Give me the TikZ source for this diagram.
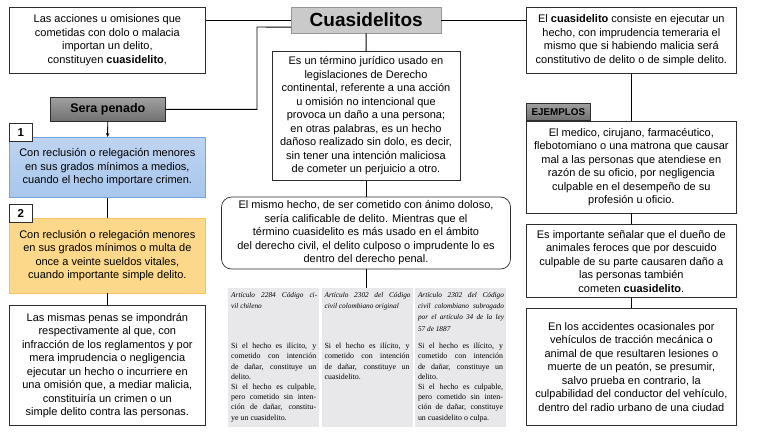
\documentclass[tikz,border=0pt]{standalone}
\usepackage{fontspec}
\setmainfont{Liberation Sans}
\newfontfamily\tablefont{Liberation Serif}
\usetikzlibrary{positioning,arrows.meta}
\definecolor{boxline}{RGB}{45,45,45}
\definecolor{titlegray}{RGB}{202,202,202}
\definecolor{titleline}{RGB}{150,150,150}
\definecolor{tagtop}{RGB}{160,160,160}
\definecolor{tagbottom}{RGB}{112,112,112}
\definecolor{penblue}{RGB}{168,198,236}
\definecolor{penblueline}{RGB}{118,164,221}
\definecolor{penyellow}{RGB}{252,216,138}
\definecolor{penyellowline}{RGB}{244,194,98}
\definecolor{tablegray}{RGB}{232,232,234}

\begin{document}
\begin{tikzpicture}[x=1pt, y=-1pt, node distance=10pt,
  every node/.style={font=\fontsize{11}{13.5}\selectfont},
  box/.style={draw=boxline, fill=white, line width=0.7pt, inner sep=3pt, align=center},
  tag/.style={draw=boxline, line width=0.7pt, top color=tagtop, bottom color=tagbottom, inner sep=2pt},
  numtag/.style={draw=boxline, fill=white, line width=0.7pt, inner sep=0pt, minimum width=23pt, minimum height=18pt, font=\bfseries\fontsize{11.5}{13}\selectfont},
  tabcol/.style={fill=tablegray, inner sep=0pt, minimum width=91pt, minimum height=139pt},
  tabhead/.style={inner sep=0pt, text width=86pt, align=justify, font=\tablefont\itshape\fontsize{7.3}{11.3}\selectfont},
  tabbody/.style={inner sep=0pt, text width=85pt, align=justify, font=\tablefont\fontsize{7.9}{10.2}\selectfont},
  link/.style={line width=0.9pt, black}]
  \fill[white] (0,0) rectangle (768,433);
  \useasboundingbox (0,0) rectangle (768,433);

  % centre column
  \node[draw=titleline, fill=titlegray, minimum width=150pt, minimum height=26pt, inner sep=0pt,
    font=\bfseries\fontsize{19}{21}\selectfont, anchor=north west] (title) at (291,7) {Cuasidelitos};
  \node[box, minimum width=188pt, minimum height=129pt, anchor=north] (termino) at (366,51)
    {Es un término jurídico usado en\\legislaciones de Derecho\\continental, referente a una acción\\u omisión no intencional que\\provoca un daño a una persona;\\en otras palabras, es un hecho\\dañoso realizado sin dolo, es decir,\\sin tener una intención maliciosa\\de cometer un perjuicio a otro.};
  \node[box, rounded corners=10pt, minimum width=289pt, minimum height=72pt, below=16pt of termino] (doloso)
    {El mismo hecho, de ser cometido con ánimo doloso,\\sería calificable de delito. Mientras que el\\término cuasidelito es más usado en el ámbito\\del derecho civil, el delito culposo o imprudente lo es\\dentro del derecho penal.};

  % table of articles
  \node[tabcol, anchor=north west] (colA) at (228,288) {};
  \node[tabcol, right=2pt of colA] (colB) {};
  \node[tabcol, right=2pt of colB] (colC) {};
  \node[tabhead, anchor=north west] (headA) at ([xshift=3pt,yshift=-4pt]colA.north west)
    {Artículo 2284 Código ci-\linebreak vil chileno};
  \node[tabhead, anchor=north west] (headB) at ([xshift=3pt,yshift=-4pt]colB.north west)
    {Artículo 2302 del Código\linebreak civil colombiano original};
  \node[tabhead, anchor=north west] (headC) at ([xshift=3pt,yshift=-4pt]colC.north west)
    {Artículo 2302 del Código\linebreak civil colombiano subrogado\linebreak por el artículo 34 de la ley\linebreak 57 de 1887};
  \node[tabbody, anchor=north west] (bodyA) at ([xshift=3pt,yshift=-55pt]colA.north west)
    {Si el hecho es ilícito, y\linebreak cometido con intención\linebreak de dañar, constituye un\linebreak delito.\\Si el hecho es culpable,\linebreak pero cometido sin inten-\linebreak ción de dañar, constitu-\linebreak ye un cuasidelito.};
  \node[tabbody, anchor=north west] (bodyB) at ([xshift=3pt,yshift=-55pt]colB.north west)
    {Si el hecho es ilícito, y\linebreak cometido con intención\linebreak de dañar, constituye un\linebreak cuasidelito.};
  \node[tabbody, anchor=north west] (bodyC) at ([xshift=3pt,yshift=-55pt]colC.north west)
    {Si el hecho es ilícito, y\linebreak cometido con intención\linebreak de dañar, constituye un\linebreak delito.\\Si el hecho es culpable,\linebreak pero cometido sin inten-\linebreak ción de dañar, constituye\linebreak un cuasidelito o culpa.};

  % left column
  \node[box, minimum width=196pt, minimum height=66pt, anchor=north west] (acciones) at (9,7)
    {Las acciones u omisiones que\\cometidas con dolo o malacia\\importan un delito,\\constituyen \textbf{cuasidelito},};
  \node[tag, minimum width=115pt, minimum height=24pt, font=\bfseries\fontsize{12.5}{14}\selectfont,
    anchor=north west] (penado) at (50,97) {Sera penado};
  \node[box, draw=penblueline, top color=penblue!75!white, bottom color=penblue, minimum width=196pt,
    minimum height=60pt, anchor=north west] (pena1) at (9,137)
    {Con reclusión o relegación menores\\en sus grados mínimos a medios,\\cuando el hecho importare crimen.};
  \node[box, draw=penyellowline, fill=penyellow, minimum width=196pt, minimum height=75pt,
    below=20pt of pena1] (pena2)
    {Con reclusión o relegación menores\\en sus grados mínimos o multa de\\once a veinte sueldos vitales,\\cuando importante simple delito.};
  \node[box, minimum width=196pt, minimum height=120pt, below=12pt of pena2] (mismas)
    {Las mismas penas se impondrán\\respectivamente al que, con\\infracción de los reglamentos y por\\mera imprudencia o negligencia\\ejecutar un hecho o incurriere en\\una omisión que, a mediar malicia,\\constituiría un crimen o un\\simple delito contra las personas.};
  \node[numtag, anchor=south west] (num1) at ([yshift=-5pt]pena1.north west) {1};
  \node[numtag, anchor=south west] (num2) at ([yshift=-5pt]pena2.north west) {2};

  % right column
  \node[box, minimum width=210pt, minimum height=66pt, anchor=north west] (consiste) at (526,7)
    {El \textbf{cuasidelito} consiste en ejecutar un\\hecho, con imprudencia temeraria el\\mismo que si habiendo malicia será\\constitutivo de delito o de simple delito.};
  \node[box, minimum width=210pt, minimum height=92pt, below=47pt of consiste] (medico)
    {El medico, cirujano, farmacéutico,\\flebotomiano o una matrona que causar\\mal a las personas que atendiese en\\razón de su oficio, por negligencia\\culpable en el desempeño de su\\profesión u oficio.};
  \node[tag, minimum width=64pt, minimum height=17pt, font=\bfseries\fontsize{9.8}{11}\selectfont,
    anchor=south west] (ejemplos) at (medico.north west) {EJEMPLOS};
  \node[box, minimum width=210pt, minimum height=73pt, below=11pt of medico] (feroces)
    {Es importante señalar que el dueño de\\animales feroces que por descuido\\culpable de su parte causaren daño a\\las personas también\\cometen \textbf{cuasidelito}.};
  \node[box, minimum width=210pt, minimum height=117pt, below=10pt of feroces] (accidentes)
    {En los accidentes ocasionales por\\vehículos de tracción mecánica o\\animal de que resultaren lesiones o\\muerte de un peatón, se presumir,\\salvo prueba en contrario, la\\culpabilidad del conductor del vehículo,\\dentro del radio urbano de una ciudad};

  % connectors
  \coordinate (bend) at (257,27);
  \draw[link] (title.west) -- (acciones.north east |- title.west);
  \draw[link] ([yshift=-7pt]title.west) -- (bend) |- (penado.east);
  \draw[link] (title.east) -- (consiste.north west |- title.east);
  \draw[link] (title) -- (termino);
  \draw[link] (termino) -- (doloso);
  \draw[link] (doloso.south) -- (doloso.south |- colB.north);
  \draw[link, -{Stealth[length=4pt,width=3.5pt]}] (penado) -- (pena1);
  \draw[link] (pena1) -- (pena2);
  \draw[link] (pena2) -- (mismas);
  \draw[link] (consiste) -- (medico);
  \draw[link] (medico) -- (feroces);
  \draw[link] (feroces) -- (accidentes);
\end{tikzpicture}
\end{document}
